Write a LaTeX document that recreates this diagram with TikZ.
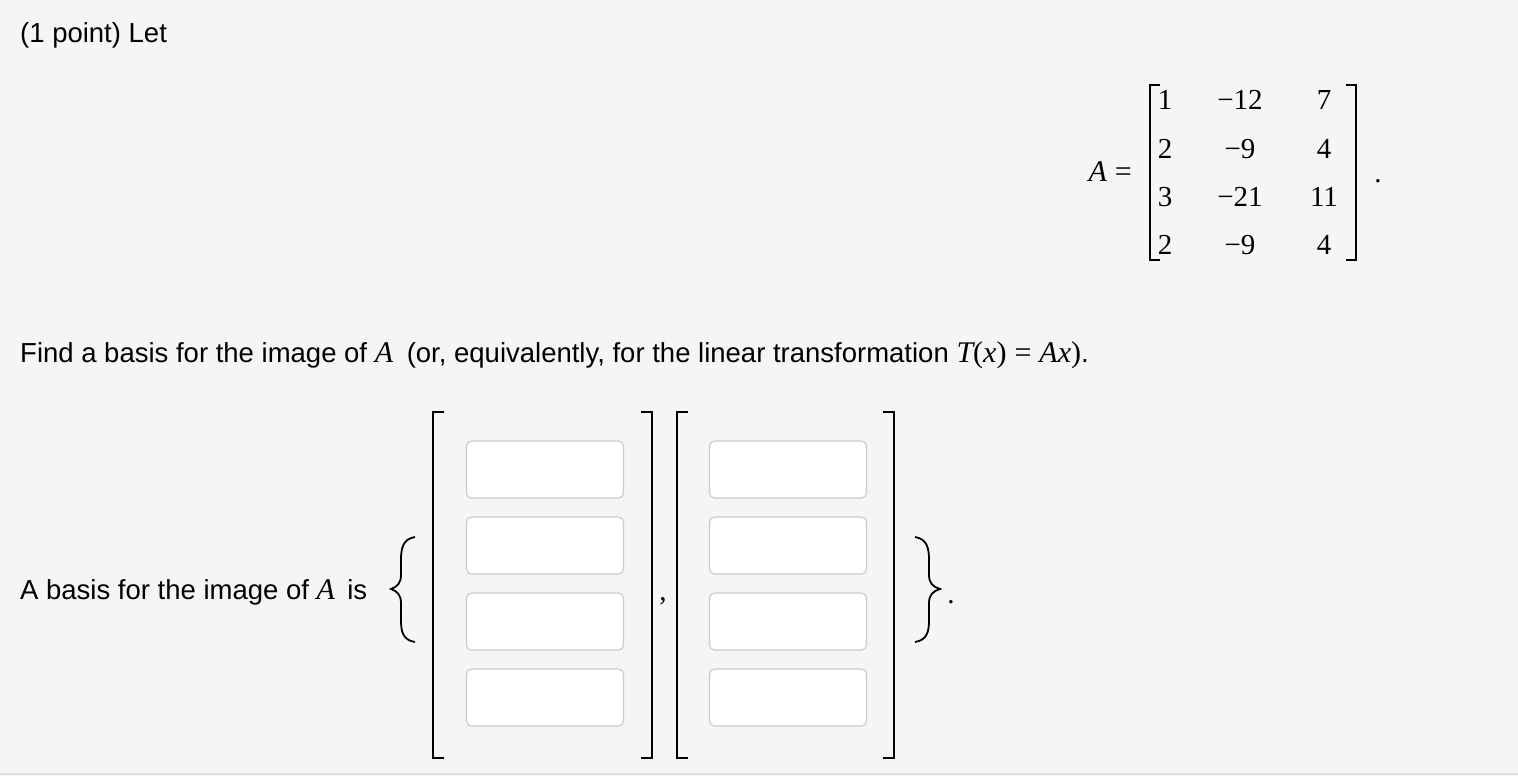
\documentclass[tikz,border=0pt]{standalone}
\usepackage{fontspec}
\setmainfont{Liberation Sans}
\newfontfamily\mf{Liberation Serif}
\begin{document}
\begin{tikzpicture}[x=1pt,y=-1pt,
  txt/.style={anchor=base west,inner sep=0,font=\fontsize{27.5}{30}\selectfont},
  num/.style={anchor=base,inner sep=0,font=\mf\fontsize{29}{31}\selectfont},
  inbox/.style={draw=black!20,fill=white,rounded corners=5pt,line width=1.2pt,minimum width=157pt,minimum height=57pt,inner sep=0},
  brk/.style={line width=2pt}]
\fill[black!4] (0,0) rectangle (1518,776);
\useasboundingbox (0,0) rectangle (1518,776);
\draw[black!12,line width=1.5pt] (0,774) -- (1518,774);
\node[txt] (t1) at (20,43) {(1 point) Let};
% matrix
\node[num,anchor=base east,font=\mf\fontsize{30}{32}\selectfont] (Aeq) at (1132,181) {\itshape A\upshape\hspace{8pt}=};
\draw[brk] (1160,85) -- (1150,85) -- (1150,260) -- (1160,260);
\draw[brk] (1346,85) -- (1356,85) -- (1356,260) -- (1346,260);
\node[num] (m11) at (1165,110) {1};  \node[num] (m12) at (1240,110) {−12}; \node[num] (m13) at (1324,110) {7};
\node[num] (m21) at (1165,158) {2};  \node[num] (m22) at (1240,158) {−9};  \node[num] (m23) at (1324,158) {4};
\node[num] (m31) at (1165,206) {3};  \node[num] (m32) at (1240,206) {−21}; \node[num] (m33) at (1324,206) {11};
\node[num] (m41) at (1165,254) {2};  \node[num] (m42) at (1240,254) {−9};  \node[num] (m43) at (1324,254) {4};
\node[num] (dot1) at (1378,182) {.};
% question
\node[txt] (q) at (20,362) {Find a basis for the image of {\mf\fontsize{30}{32}\selectfont\itshape A}\hspace{6pt} (or, equivalently, for the linear transformation {\mf\fontsize{30}{32}\selectfont\itshape T\upshape(\itshape x\upshape)\hspace{8pt}=\hspace{8pt}\itshape Ax\upshape)}.};
\node[txt] (b) at (20,599) {A basis for the image of {\mf\fontsize{30}{32}\selectfont\itshape A} \,is};
% braces
\draw[line width=1.8pt] (415,537) .. controls (403,539) and (401,548) .. (401,560) -- (401,575) .. controls (401,583) and (397,587) .. (391,589) .. controls (397,591) and (401,595) .. (401,603) -- (401,620) .. controls (401,632) and (403,640) .. (415,642);
\draw[line width=1.8pt] (915,537) .. controls (927,539) and (929,548) .. (929,560) -- (929,575) .. controls (929,583) and (933,587) .. (940,589) .. controls (933,591) and (929,595) .. (929,603) -- (929,620) .. controls (929,632) and (927,640) .. (915,642);
\node[num] (dot2) at (951,603) {.};
\node[num] (comma) at (663,600) {,};
% brackets
\draw[brk] (444,412) -- (433,412) -- (433,758) -- (444,758);
\draw[brk] (641,412) -- (652,412) -- (652,758) -- (641,758);
\draw[brk] (688,412) -- (677,412) -- (677,758) -- (688,758);
\draw[brk] (883,412) -- (894,412) -- (894,758) -- (883,758);
% boxes
\foreach \y [count=\i] in {469.5,545.5,621.5,697.5}{
  \node[inbox] (a\i) at (545,\y) {};
  \node[inbox] (c\i) at (788,\y) {};
}
\end{tikzpicture}
\end{document}
